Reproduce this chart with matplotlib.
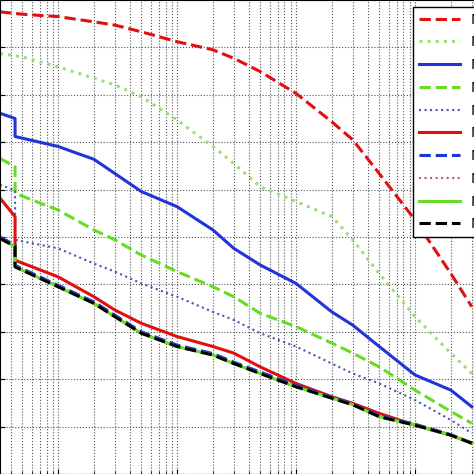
import matplotlib
matplotlib.use("Agg")
import matplotlib.pyplot as plt
import numpy as np

# x grid (log scale); xs has the step at x = 0.435
x_plain = [0.325, 0.5, 1, 2, 3, 5, 10, 20, 30, 50, 100, 200, 300, 500, 1000, 2000, 3000]
x_step = [0.325, 0.435, 0.435, 1, 2, 3, 5, 10, 20, 30, 50, 100, 200, 300, 500, 1000, 2000, 3000]

m1 = [9.75, 9.70, 9.65, 9.54, 9.47, 9.33, 9.12, 8.95, 8.77, 8.49, 8.03, 7.43, 7.05, 6.34, 5.36, 4.23, 3.53]
m2 = [8.87, 8.80, 8.59, 8.35, 8.21, 7.96, 7.47, 6.91, 6.55, 6.06, 5.75, 5.43, 4.94, 4.23, 3.32, 2.55, 2.12]
m3 = [7.61, 7.50, 7.12, 6.91, 6.64, 6.34, 5.96, 5.64, 5.15, 4.76, 4.41, 4.02, 3.42, 3.14, 2.69, 2.09, 1.77, 1.42]
m4 = [6.66, 6.48, 5.92, 5.57, 5.15, 4.94, 4.62, 4.27, 3.95, 3.74, 3.39, 3.11, 2.76, 2.55, 2.26, 1.77, 1.32, 1.07]
m5 = [6.10, 5.99, 4.94, 4.76, 4.44, 4.27, 4.02, 3.74, 3.42, 3.25, 2.97, 2.69, 2.33, 2.12, 1.91, 1.56, 1.14, 0.86]
m6 = [5.82, 5.43, 4.51, 4.16, 3.74, 3.46, 3.18, 2.90, 2.69, 2.55, 2.26, 1.91, 1.63, 1.49, 1.28, 1.03, 0.82, 0.65]
m7 = [5.00, 4.83, 4.40, 3.98, 3.63, 3.35, 3.00, 2.72, 2.54, 2.36, 2.15, 1.87, 1.62, 1.48, 1.23, 1.05, 0.83, 0.65]
m8 = [4.97, 4.80, 4.37, 3.95, 3.60, 3.32, 2.97, 2.69, 2.51, 2.33, 2.12, 1.84, 1.60, 1.46, 1.21, 1.03, 0.82, 0.65]
m9 = m8
m10 = m8

fig = plt.figure(figsize=(4.74, 4.74), dpi=100)
ax = fig.add_axes([0, 0, 1, 1])
lw = 2.2
ax.plot(x_plain, m1, color="#e01010", ls="--", lw=lw, label="Method 1")
ax.plot(x_plain, m2, color="#99e077", ls=":", lw=lw, label="Method 2")
ax.plot(x_step, m3, color="#2035d8", ls="-", lw=lw, label="Method 3")
ax.plot(x_step, m4, color="#66dd22", ls="--", lw=lw, label="Method 4")
ax.plot(x_step, m5, color="#4a55b0", ls=":", lw=1.5, label="Method 5")
ax.plot(x_step, m6, color="#e01010", ls="-", lw=lw, label="Method 6")
ax.plot(x_step, m7, color="#2035d8", ls="--", lw=lw, label="Method 7")
ax.plot(x_step, m8, color="#b06060", ls=":", lw=1.5, label="Method 8")
ax.plot(x_step, m9, color="#66dd22", ls="-", lw=lw, label="Method 9")
ax.plot(x_step, m10, color="black", ls="--", lw=lw, label="Method 10")

ax.set_xscale("log")
ax.set_xlim(0.325, 3133)
ax.set_ylim(0, 10)
ax.set_yticks(np.arange(0, 11, 1))
ax.grid(True, which="major", ls=":", color="#555555", lw=0.8)
ax.grid(True, which="minor", axis="x", ls=":", color="#555555", lw=0.8)
ax.tick_params(which="both", direction="in", labelbottom=False, labelleft=False)

ax.legend(loc="upper left", bbox_to_anchor=(413 / 474, 1 - 7 / 474),
          fontsize=10, handlelength=3, labelspacing=0.63, fancybox=False,
          edgecolor="black", framealpha=1, borderaxespad=0)

fig.savefig("out.png", dpi=100)
